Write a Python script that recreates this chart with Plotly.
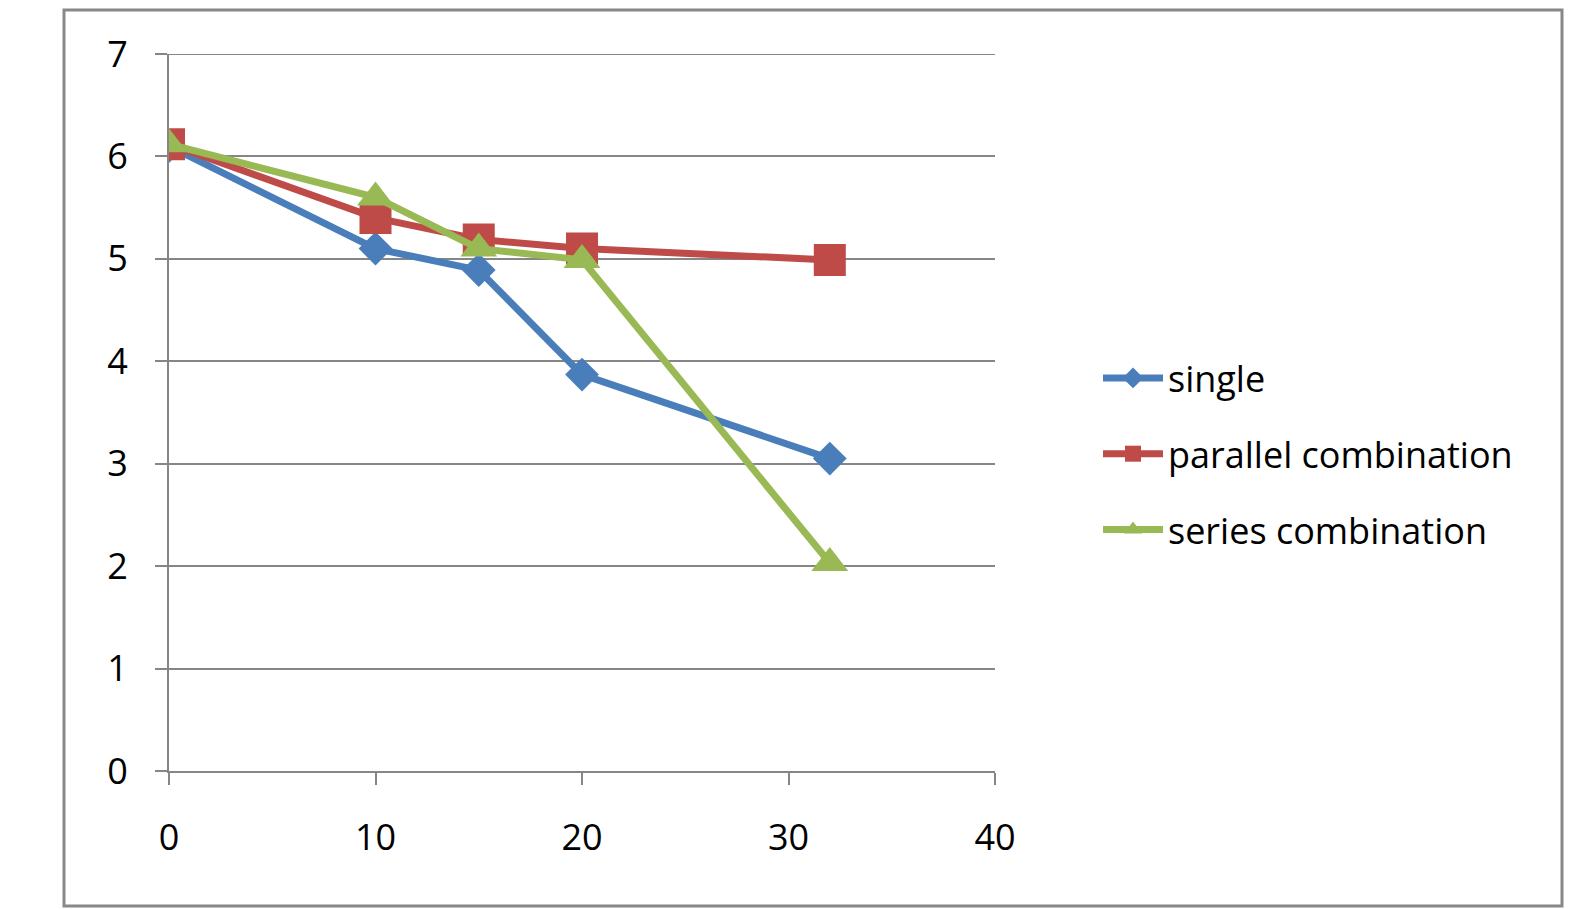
import plotly.graph_objects as go

x_vals = [0, 10, 15, 20, 32]
single = [6.1, 5.1, 4.89, 3.87, 3.05]
parallel = [6.12, 5.4, 5.19, 5.1, 4.99]
series = [6.12, 5.6, 5.1, 4.99, 2.03]

names = ["single", "parallel combination", "series combination"]
colors = ["#4A7EBB", "#BE4B48", "#98B954"]
symbols = ["diamond", "square", "triangle-up"]
msizes = [26, 32, 32]

W, H = 1572, 909
L, R, T, B = 169, 995, 54, 771

fig = go.Figure()
for i, (nm, ys) in enumerate(zip(names, [single, parallel, series])):
    fig.add_trace(go.Scatter(
        x=x_vals, y=ys, name=nm, mode="lines+markers",
        line=dict(color=colors[i], width=7),
        marker=dict(symbol=symbols[i], size=msizes[i], color=colors[i]),
        legendgroup=nm,
    ))

font_family = "'Open Sans', sans-serif"
pw, ph = R - L, B - T

def px_x(p):
    return (p - L) / pw

def px_y(p):
    return (B - p) / ph

fig.update_layout(
    width=W, height=H,
    margin=dict(l=L, r=W - R, t=T, b=H - B, pad=0),
    paper_bgcolor="white", plot_bgcolor="white",
    font=dict(family=font_family, size=36, color="black"),
    showlegend=True,
    legend=dict(
        x=px_x(1098), y=px_y(348), xanchor="left", yanchor="top",
        font=dict(size=36), tracegroupgap=26, itemwidth=60,
        bgcolor="rgba(0,0,0,0)",
    ),
    xaxis=dict(
        range=[0, 40], tickvals=[0, 10, 20, 30, 40], showgrid=False,
        zeroline=False, showline=True, linecolor="#868686", linewidth=2,
        ticks="outside", ticklen=12, tickwidth=2, tickcolor="#868686",
        ticklabelstandoff=22,
    ),
    yaxis=dict(
        range=[0, 7], tickvals=list(range(8)), showgrid=True,
        gridcolor="#868686", gridwidth=2, zeroline=False,
        showline=True, linecolor="#868686", linewidth=2,
        ticks="outside", ticklen=12, tickwidth=2, tickcolor="#868686",
        ticklabelstandoff=20,
    ),
    shapes=[
        dict(type="line", xref="paper", yref="y", x0=0, x1=1, y0=7, y1=7,
             line=dict(color="#868686", width=2), layer="below"),
        dict(type="rect", xref="paper", yref="paper",
             x0=px_x(64), x1=px_x(1562), y0=px_y(906), y1=px_y(10),
             line=dict(color="#888888", width=3), fillcolor="rgba(0,0,0,0)"),
    ],
)

fig.write_html("out.html")
